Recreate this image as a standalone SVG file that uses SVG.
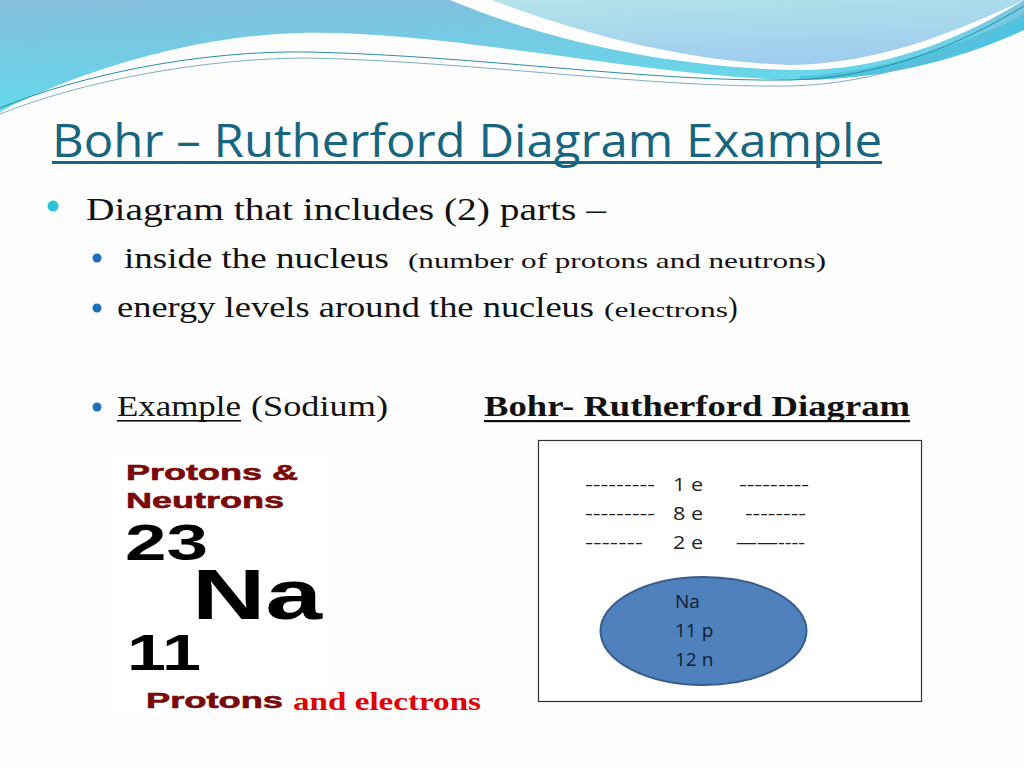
<svg xmlns="http://www.w3.org/2000/svg" width="1024" height="768" viewBox="0 0 1024 768">
<defs>
<linearGradient id="gBlue" x1="0" y1="0" x2="0.3" y2="1">
<stop offset="0" stop-color="#86bedb"/>
<stop offset="0.6" stop-color="#6fcfe6"/>
<stop offset="1" stop-color="#62dcea"/>
</linearGradient>
<linearGradient id="gPale" x1="0" y1="0" x2="0.4" y2="1">
<stop offset="0" stop-color="#b4e3ea"/>
<stop offset="1" stop-color="#9fcdee"/>
</linearGradient>
<style>
.body{font-family:"Liberation Serif","DejaVu Serif",serif;fill:#111;}
.calib{font-family:"Open Sans","Liberation Sans",sans-serif;fill:#222;}
.blk{font-family:"Liberation Sans","DejaVu Sans",sans-serif;font-weight:bold;}
.sub{fill:#1f6fc0;}
</style>
</defs>
<rect width="1024" height="768" fill="#fdfdfd"/>
<g id="background">
<path d="M0,0 H1024 V18 C960,55 880,80 800,80 C650,78 450,30 300,33 C180,36 60,80 0,112 Z" fill="url(#gBlue)"/>
<path d="M450,0 C540,38 660,66 790,70 C880,72 960,40 1024,0 Z" fill="#ffffff"/>
<path d="M492,0 C575,32 685,62 790,65 C880,64 960,30 1024,0 Z" fill="url(#gPale)"/>
<path d="M800,76 C880,73 960,45 1024,15 V30 C960,60 880,80 800,80 Z" fill="#4fc3e0"/>
<path d="M0,108 C80,75 200,50 310,52 C480,56 650,82 790,80 C880,78 960,45 1024,6" fill="none" stroke="#2a8fa0" stroke-width="1"/>
<path d="M0,114 C80,82 200,58 310,58 C480,62 650,88 790,86 C880,84 960,52 1024,14" fill="none" stroke="#7fb0c0" stroke-width="1"/>
</g>
<g id="title">
<text x="52" y="157" font-family="Open Sans, Liberation Sans, sans-serif" font-size="46" fill="#17657f" textLength="830" lengthAdjust="spacingAndGlyphs">Bohr – Rutherford Diagram Example</text>
<rect x="52" y="161" width="830" height="3" fill="#17657f"/>
</g>
<g id="bullets">
<circle cx="53" cy="206" r="5.5" fill="#2dc5d8"/>
<text class="body" x="86" y="220" font-size="32" textLength="520" lengthAdjust="spacingAndGlyphs">Diagram that includes (2) parts –</text>
<circle class="sub" cx="97" cy="258" r="4.5"/>
<text class="body" x="124" y="268" font-size="29" textLength="265" lengthAdjust="spacingAndGlyphs">inside the nucleus</text>
<text class="body" x="408" y="268" font-size="22" textLength="418" lengthAdjust="spacingAndGlyphs">(number of protons and neutrons)</text>
<circle class="sub" cx="97" cy="308" r="4.5"/>
<text class="body" x="117" y="317" font-size="29" textLength="477" lengthAdjust="spacingAndGlyphs">energy levels around the nucleus</text>
<text class="body" x="604" y="317" font-size="22" textLength="124" lengthAdjust="spacingAndGlyphs">(electrons</text>
<text class="body" x="728" y="317" font-size="29">)</text>
<circle class="sub" cx="97" cy="407" r="4.5"/>
<text class="body" x="117" y="416" font-size="29" textLength="124" lengthAdjust="spacingAndGlyphs">Example</text>
<rect x="117" y="420" width="124" height="1.6" fill="#111"/>
<text class="body" x="251" y="416" font-size="29" textLength="137" lengthAdjust="spacingAndGlyphs">(Sodium)</text>
<text class="body" x="484" y="416" font-size="29" font-weight="bold" textLength="426" lengthAdjust="spacingAndGlyphs">Bohr- Rutherford Diagram</text>
<rect x="484" y="420" width="426" height="2.2" fill="#111"/>
</g>
<g id="symbol">
<rect x="110" y="455" width="223" height="262" fill="#ffffff"/>
<text class="blk" x="126" y="480" font-size="22" fill="#7a0a0a" stroke="#7a0a0a" stroke-width="0.6" textLength="172" lengthAdjust="spacingAndGlyphs">Protons &amp;</text>
<text class="blk" x="126" y="508" font-size="22" fill="#7a0a0a" stroke="#7a0a0a" stroke-width="0.6" textLength="158" lengthAdjust="spacingAndGlyphs">Neutrons</text>
<text class="blk" x="125" y="560" font-size="50" fill="#000" textLength="83" lengthAdjust="spacingAndGlyphs">23</text>
<text class="blk" x="192" y="619" font-size="70" fill="#000" textLength="130" lengthAdjust="spacingAndGlyphs">Na</text>
<text class="blk" x="127" y="670" font-size="50" fill="#000" textLength="74" lengthAdjust="spacingAndGlyphs">11</text>
<text class="blk" x="146" y="708" font-size="22" fill="#7a0a0a" stroke="#7a0a0a" stroke-width="0.6" textLength="137" lengthAdjust="spacingAndGlyphs">Protons</text>
<text class="body" x="293" y="710" font-size="26" font-weight="bold" style="fill:#e00000" textLength="188" lengthAdjust="spacingAndGlyphs">and electrons</text>
</g>
<g id="bohr-diagram">
<rect x="538.5" y="440.5" width="383" height="261" fill="#ffffff" stroke="#333" stroke-width="1.2"/>
<g font-size="19">
<text class="calib" x="585" y="491" textLength="70" lengthAdjust="spacingAndGlyphs">---------</text>
<text class="calib" x="673" y="491" textLength="30" lengthAdjust="spacingAndGlyphs">1 e</text>
<text class="calib" x="739" y="491" textLength="70" lengthAdjust="spacingAndGlyphs">---------</text>
<text class="calib" x="585" y="520" textLength="70" lengthAdjust="spacingAndGlyphs">---------</text>
<text class="calib" x="673" y="520" textLength="30" lengthAdjust="spacingAndGlyphs">8 e</text>
<text class="calib" x="745" y="520" textLength="61" lengthAdjust="spacingAndGlyphs">--------</text>
<text class="calib" x="585" y="549" textLength="58" lengthAdjust="spacingAndGlyphs">-------</text>
<text class="calib" x="673" y="549" textLength="30" lengthAdjust="spacingAndGlyphs">2 e</text>
<text class="calib" x="736" y="549" textLength="69" lengthAdjust="spacingAndGlyphs">——----</text>
</g>
<ellipse cx="703.5" cy="631" rx="103" ry="54" fill="#4f81bd" stroke="#385d8a" stroke-width="2"/>
<g font-size="19" fill="#0f1d33" font-family="Open Sans, Liberation Sans, sans-serif">
<text x="675" y="608">Na</text>
<text x="675" y="637">11 p</text>
<text x="675" y="666">12 n</text>
</g>
</g>
</svg>
